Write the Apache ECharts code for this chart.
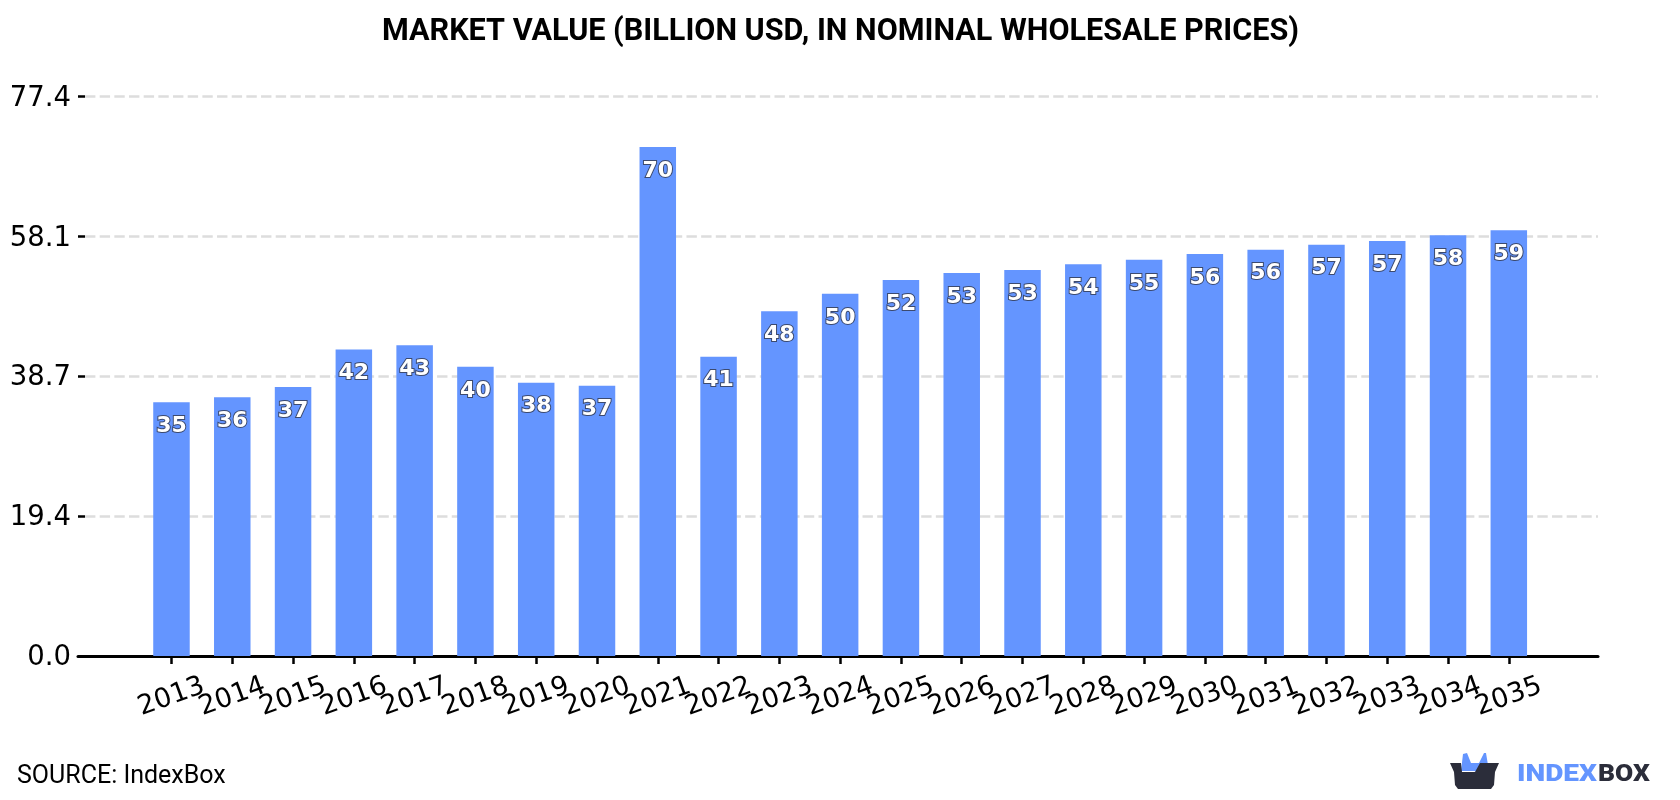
<!DOCTYPE html>
<html>
<head>
<meta charset="utf-8">
<title>Market value</title>
<script src="https://cdn.jsdelivr.net/npm/echarts@6/dist/echarts.min.js"></script>
<style>html,body{margin:0;padding:0;background:#fff}#chart{width:1680px;height:800px}</style>
</head>
<body>
<div id="chart"></div>
<script>
const years = ['2013','2014','2015','2016','2017','2018','2019','2020','2021','2022','2023','2024','2025','2026','2027','2028','2029','2030','2031','2032','2033','2034','2035'];
const marketValue = [35.1,35.8,37.2,42.4,43,40,37.8,37.4,70.4,41.4,47.7,50.1,52,53,53.4,54.2,54.8,55.6,56.2,56.9,57.4,58.2,58.9];
const yTickLabels = {0: '0.0', 19.35: '19.4', 38.7: '38.7', 58.05: '58.1', 77.4: '77.4'};
const BLUE = '#6495ff', DARK = '#2b2d3a';

// One empty band on each side keeps the bars clear of the axis ends.
const axisCategories = ['', ...years, ''];
const barValues = [null, ...marketValue, null];
const isYearBand = i => i > 0 && i < axisCategories.length - 1;

const chart = echarts.init(document.getElementById('chart'), null, {renderer: 'canvas'});
chart.setOption({
  animation: false,
  backgroundColor: '#fff',
  title: {
    text: 'MARKET VALUE (BILLION USD, IN NOMINAL WHOLESALE PRICES)',
    left: 835.5, top: 12, textAlign: 'center',
    textStyle: {fontFamily: 'Roboto', fontWeight: 'bold', fontSize: 30.6, color: '#000'}
  },
  // Grid 0 carries the frame (value axis, gridlines, baseline); grid 1 carries the bars and years.
  grid: [
    {left: 78, top: 96.5, width: 1520, height: 559.5},
    {left: 80.3, top: 96.5, width: 1519.7, height: 559.5}
  ],
  xAxis: [
    {
      type: 'category', gridIndex: 0, data: axisCategories,
      axisLine: {lineStyle: {color: '#000', width: 3}},
      axisTick: {show: false},
      axisLabel: {show: false}
    },
    {
      type: 'category', gridIndex: 1, data: axisCategories,
      axisLine: {show: false},
      axisTick: {
        show: true, alignWithLabel: true, length: 8,
        lineStyle: {color: '#000', width: 2.5},
        interval: isYearBand
      },
      axisLabel: {
        interval: 0,
        rotate: 20, align: 'center', verticalAlign: 'middle',
        margin: 41,
        fontFamily: 'DejaVu Sans', fontSize: 27, color: '#000'
      }
    }
  ],
  yAxis: [
    {
      type: 'value', gridIndex: 0,
      min: 0, max: 77.4, interval: 19.35,
      axisLine: {show: false},
      axisTick: {show: true, inside: true, length: 7, lineStyle: {color: '#000', width: 2.5}},
      axisLabel: {
        margin: 7,
        verticalAlign: 'top',
        padding: [-12, 0, 0, 0],
        fontFamily: 'DejaVu Sans', fontSize: 27.5, color: '#000',
        formatter: v => yTickLabels[v] ?? ''
      },
      splitLine: {lineStyle: {color: '#dddddd', width: 2.5, type: [10.4, 4.27], dashOffset: 7.67}}
    },
    {
      type: 'value', gridIndex: 1,
      min: 0, max: 77.4, interval: 19.35,
      axisLine: {show: false}, axisTick: {show: false}, axisLabel: {show: false}, splitLine: {show: false}
    }
  ],
  series: [{
    type: 'bar',
    xAxisIndex: 1, yAxisIndex: 1,
    data: barValues,
    barWidth: 36.5,
    itemStyle: {color: BLUE},
    label: {
      show: true, position: 'insideTop', distance: 13,
      formatter: p => String(Math.round(p.value)),
      fontFamily: 'DejaVu Sans', fontWeight: 'bold', fontSize: 22,
      color: '#fff', textBorderColor: '#3c4a6e', textBorderWidth: 2
    }
  }],
  graphic: [
    {type: 'text', left: 17, top: 764, style: {text: 'SOURCE: IndexBox', fontFamily: 'Roboto', fontSize: 25, fill: '#000'}},
    // Brand mark: box with two blue flaps
    {type: 'polygon', z: 5, shape: {points: [[1461,771],[1463,754],[1467,753],[1471,763],[1479,763],[1484,753],[1486,753],[1489,771],[1478,772],[1474,771]]}, style: {fill: BLUE}},
    {type: 'polygon', z: 6, shape: {points: [[1450,763],[1461,763],[1462,772],[1475,772],[1480,763],[1499,763],[1495,772],[1494,785],[1491,789],[1458,789],[1455,785],[1454,772]]}, style: {fill: DARK}},
    {type: 'text', x: 1517, y: 763, scaleX: 1.17, style: {text: 'INDEX', fontFamily: 'Roboto', fontWeight: 900, fontSize: 24, fill: BLUE}},
    {type: 'text', x: 1598, y: 763, scaleX: 1.1, style: {text: 'BOX', fontFamily: 'Roboto', fontWeight: 900, fontSize: 24, fill: DARK}}
  ]
});
</script>
</body>
</html>
